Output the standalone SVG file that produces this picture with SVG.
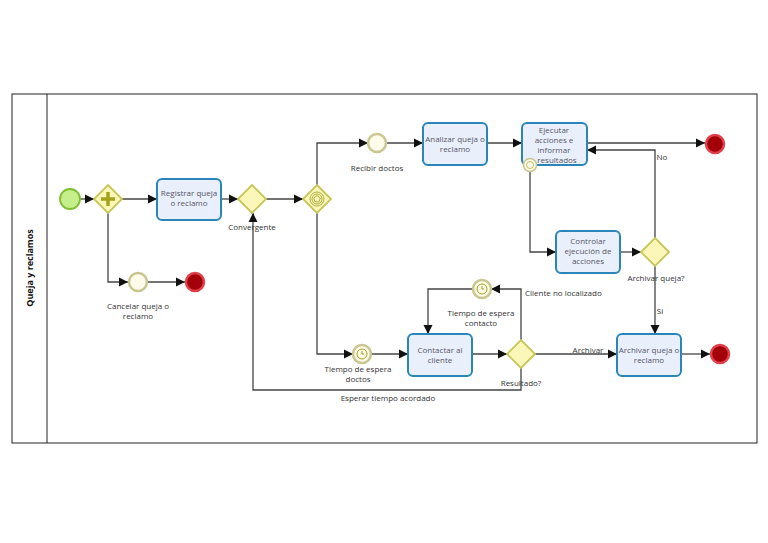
<svg xmlns="http://www.w3.org/2000/svg" width="768" height="543" viewBox="0 0 768 543">
<defs>
<marker id="a" viewBox="0 0 10 10" refX="10" refY="5" markerWidth="7" markerHeight="7" orient="auto"><path d="M0,0L10,5L0,10z" fill="#111"/></marker>
<style>
.t{fill:#eaf0fb;stroke:#2a86b8;stroke-width:2}
.g{fill:#fbf7b8;stroke:#c7c65a;stroke-width:1.8}
.e{fill:#fffbea;stroke:#c9c690;stroke-width:2.5}
.end{fill:#a3000a;stroke:#e0404a;stroke-width:2.5}
.c{fill:none;stroke:#444;stroke-width:1.3;marker-end:url(#a)}
text{font-family:"Open Sans","Noto Sans",sans-serif;font-size:8px;fill:#333;text-anchor:middle}
.tt{fill:#556}
</style>
</defs>
<rect width="768" height="543" fill="#fff"/>
<rect x="12" y="94" width="745" height="349" fill="#fff" stroke="#222" stroke-width="1"/>
<line x1="47" y1="94" x2="47" y2="443" stroke="#222"/>
<text transform="translate(33,268) rotate(-90)" style="font-weight:bold;font-size:9px;fill:#111">Queja y reclamos</text>
<g id="connectors">
<path class="c" d="M80,199H94"/>
<path class="c" d="M122,199H157"/>
<path class="c" d="M108,213V282H128"/>
<path class="c" d="M147,282H185"/>
<path class="c" d="M221,199H238"/>
<path class="c" d="M266,199H303"/>
<path class="c" d="M317,185V143H368"/>
<path class="c" d="M386,143H423"/>
<path class="c" d="M487,143H522"/>
<path class="c" d="M587,143H705"/>
<path class="c" d="M655,238V150H587"/>
<path class="c" d="M530,171V252H556"/>
<path class="c" d="M620,252H641"/>
<path class="c" d="M655,266V334"/>
<path class="c" d="M681,354H710"/>
<path class="c" d="M317,213V354H353"/>
<path class="c" d="M371,354H408"/>
<path class="c" d="M472,354H507"/>
<path class="c" d="M535,354H617"/>
<path class="c" d="M521,340V289H491"/>
<path class="c" d="M473,289H428V334"/>
<path class="c" d="M521,368V390H253V213"/>
</g>
<g id="start"><circle cx="70" cy="199" r="10" fill="#c6ee8a" stroke="#7dbf2e" stroke-width="1.8"/></g>
<g id="fork"><path class="g" d="M108,185L122,199L108,213L94,199z"/><path d="M108,192V206M101,199H115" stroke="#a5a31e" stroke-width="3.5"/></g>
<g id="registrar"><rect class="t" x="157" y="179" width="64" height="41" rx="5"/><text class="tt" x="189" y="196">Registrar queja</text><text class="tt" x="189" y="206">o reclamo</text></g>
<g id="cancelar"><circle class="e" cx="138" cy="282" r="9"/><text x="138" y="309">Cancelar queja o</text><text x="138" y="319">reclamo</text></g>
<g id="end1"><circle class="end" cx="195" cy="282" r="9"/></g>
<g id="convergente"><path class="g" d="M252,185L266,199L252,213L238,199z"/><text x="252" y="230">Convergente</text></g>
<g id="evgw"><path class="g" d="M317,185L331,199L317,213L303,199z"/><circle cx="317" cy="199" r="7" fill="none" stroke="#b0ae40"/><circle cx="317" cy="199" r="5" fill="none" stroke="#b0ae40"/><path d="M317,195.5L320.3,198L319,201.8H315L313.7,198z" fill="none" stroke="#b0ae40"/></g>
<g id="recibir"><circle class="e" cx="377" cy="143" r="9"/><text x="377" y="171">Recibir doctos</text></g>
<g id="analizar"><rect class="t" x="423" y="123" width="64" height="42" rx="5"/><text class="tt" x="455" y="142">Analizar queja o</text><text class="tt" x="455" y="152">reclamo</text></g>
<g id="ejecutar"><rect class="t" x="522" y="123" width="65" height="42" rx="5"/><text class="tt" x="554" y="133">Ejecutar</text><text class="tt" x="554" y="143">acciones e</text><text class="tt" x="554" y="153">informar</text><text class="tt" x="557" y="163">resultados</text>
<circle cx="530" cy="165" r="6.5" fill="#fffbea" stroke="#c9c690" stroke-width="1.5"/><circle cx="530" cy="165" r="3.5" fill="none" stroke="#b0ae40" stroke-width="0.8"/></g>
<g id="end2"><circle class="end" cx="715" cy="144" r="9"/></g>
<text x="662" y="160">No</text>
<g id="controlar"><rect class="t" x="556" y="231" width="64" height="42" rx="5"/><text class="tt" x="588" y="244">Controlar</text><text class="tt" x="588" y="254">ejecución de</text><text class="tt" x="588" y="264">acciones</text></g>
<g id="archgw"><path class="g" d="M655,238L669,252L655,266L641,252z"/><text x="656" y="281">Archivar queja?</text></g>
<text x="660" y="314">Si</text>
<g id="archivar"><rect class="t" x="617" y="334" width="64" height="42" rx="5"/><text class="tt" x="649" y="353">Archivar queja o</text><text class="tt" x="649" y="363">reclamo</text></g>
<g id="end3"><circle class="end" cx="720" cy="354" r="9"/></g>
<g id="timer1"><circle class="e" cx="362" cy="354" r="9"/><circle cx="362" cy="354" r="5" fill="none" stroke="#a5a31e"/><path d="M362,351V354H364" fill="none" stroke="#a5a31e"/><text x="358" y="372">Tiempo de espera</text><text x="358" y="382">doctos</text></g>
<g id="contactar"><rect class="t" x="408" y="334" width="64" height="42" rx="5"/><text class="tt" x="440" y="353">Contactar al</text><text class="tt" x="440" y="363">cliente</text></g>
<g id="resultado"><path class="g" d="M521,340L535,354L521,368L507,354z"/><text x="521" y="386">Resultado?</text></g>
<g id="timer2"><circle class="e" cx="482" cy="289" r="9"/><circle cx="482" cy="289" r="5" fill="none" stroke="#a5a31e"/><path d="M482,286V289H484" fill="none" stroke="#a5a31e"/><text x="481" y="316">Tiempo de espera</text><text x="481" y="326">contacto</text></g>
<text x="525" y="296" style="text-anchor:start">Cliente  no localizado</text>
<text x="588" y="353">Archivar</text>
<text x="388" y="401">Esperar tiempo acordado</text>
</svg>
